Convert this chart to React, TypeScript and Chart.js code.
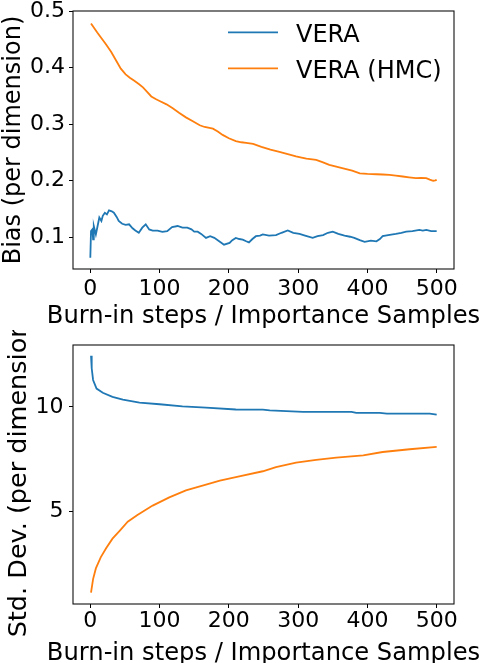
import React, { useEffect, useRef } from "react";
import { Chart, registerables } from "chart.js";

Chart.register(...registerables);

const FONT = "'DejaVu Sans', 'Liberation Sans', sans-serif";
const BLUE = "#1f77b4";
const ORANGE = "#ff7f0e";

const seriesLabels = ["VERA", "VERA (HMC)"];
const xAxisLabel = "Burn-in steps / Importance Samples";
const biasAxisLabel = "Bias (per dimension)";
const stdAxisLabel = "Std. Dev. (per dimension)";

const xTicks = [0, 100, 200, 300, 400, 500];
const biasTicks = [0.1, 0.2, 0.3, 0.4, 0.5];
const stdTicks = [5, 10];

// Bias (per dimension) — VERA
const biasVeraSteps = [
  0, 1, 3, 4, 5, 8, 10, 13, 16, 18, 21, 24, 27, 31, 34, 38, 41, 46, 51, 56, 61, 65, 70, 75, 80, 85, 90, 97,
  104, 111, 118, 126, 133, 140, 146, 150, 155, 160, 167, 173, 179, 186, 193, 201, 205, 210, 215, 220, 225, 229,
  234, 239, 245, 249, 258, 268, 276, 285, 293, 302, 310, 321, 328, 336, 343, 350, 358, 367, 375, 381, 389, 396,
  405, 413, 418, 422, 430, 441, 449, 456, 465, 475, 480, 485, 492, 500,
];
const biasVera = [
  0.064, 0.111, 0.114, 0.0965, 0.12, 0.105, 0.117, 0.135, 0.129, 0.138, 0.1435, 0.1405, 0.1475, 0.146, 0.1435,
  0.136, 0.129, 0.124, 0.122, 0.123, 0.116, 0.112, 0.108, 0.117, 0.123, 0.114, 0.112, 0.112, 0.1095, 0.111, 0.118,
  0.12, 0.117, 0.117, 0.114, 0.11, 0.11, 0.106, 0.099, 0.102, 0.099, 0.093, 0.087, 0.09, 0.095, 0.099, 0.097,
  0.096, 0.093, 0.091, 0.097, 0.102, 0.103, 0.105, 0.103, 0.104, 0.108, 0.112, 0.108, 0.106, 0.103, 0.099, 0.102,
  0.104, 0.108, 0.11, 0.106, 0.103, 0.101, 0.099, 0.095, 0.092, 0.094, 0.093, 0.097, 0.102, 0.104, 0.106, 0.108,
  0.11, 0.111, 0.113, 0.112, 0.113, 0.111, 0.111,
];

// Bias (per dimension) — VERA (HMC)
const biasHmcSteps = [
  1, 10, 22, 30, 37, 44, 51, 57, 63, 70, 76, 82, 88, 95, 100, 110, 119, 128, 138, 148, 158, 165, 177, 184, 191,
  200, 210, 218, 225, 235, 247, 260, 273, 285, 297, 305, 312, 326, 335, 345, 355, 365, 378, 389, 400, 413, 422,
  432, 441, 451, 460, 470, 478, 485, 490, 495, 498, 500,
];
const biasHmc = [
  0.478, 0.462, 0.442, 0.428, 0.413, 0.398, 0.388, 0.382, 0.377, 0.371, 0.365, 0.357, 0.349, 0.344, 0.341, 0.335,
  0.328, 0.32, 0.312, 0.305, 0.298, 0.295, 0.292, 0.287, 0.281, 0.275, 0.27, 0.268, 0.267, 0.265, 0.26, 0.255,
  0.251, 0.247, 0.243, 0.241, 0.239, 0.237, 0.233, 0.228, 0.225, 0.222, 0.218, 0.213, 0.212, 0.2115, 0.211,
  0.2105, 0.209, 0.2075, 0.206, 0.2045, 0.205, 0.2045, 0.202, 0.2, 0.2005, 0.2015,
];

// Std. Dev. (per dimension) — VERA
const stdVeraSteps = [1, 2, 4, 9, 18, 32, 47, 71, 100, 133, 167, 210, 249, 259, 307, 377, 384, 418, 428, 490, 500];
const stdVera = [
  12.45, 11.85, 11.29, 10.88, 10.68, 10.48, 10.35, 10.21, 10.13, 10.03, 9.97, 9.88, 9.87, 9.84, 9.77, 9.77, 9.72,
  9.72, 9.68, 9.68, 9.63,
];

// Std. Dev. (per dimension) — VERA (HMC)
const stdHmcSteps = [
  1, 4, 8, 15, 23, 32, 42, 54, 68, 90, 114, 138, 167, 187, 215, 249, 268, 297, 326, 355, 394, 422, 461, 500,
];
const stdHmc = [
  1.13, 1.78, 2.29, 2.82, 3.26, 3.71, 4.07, 4.52, 4.84, 5.29, 5.68, 6.02, 6.29, 6.48, 6.69, 6.93, 7.13, 7.34,
  7.47, 7.58, 7.69, 7.85, 7.98, 8.09,
];

const toPoints = (xs: number[], ys: number[]) => xs.map((x, i) => ({ x, y: ys[i] }));

const decorPlugin = {
  id: "decor",
  afterDraw(chart: any, _args: any, opts: any) {
    const { ctx, chartArea: a } = chart;
    ctx.save();
    ctx.strokeStyle = "#111";
    ctx.lineWidth = 1.1;
    ctx.strokeRect(a.left, a.top, a.right - a.left, a.bottom - a.top);
    ctx.fillStyle = "#000";
    ctx.textBaseline = "alphabetic";
    ctx.textAlign = "center";
    ctx.font = `${opts.xTitleSize}px ${FONT}`;
    ctx.fillText(opts.xTitle, (a.left + a.right) / 2, opts.xTitleY);
    ctx.save();
    ctx.font = `${opts.yTitleSize}px ${FONT}`;
    ctx.translate(opts.yTitleX, (a.top + a.bottom) / 2);
    ctx.rotate(-Math.PI / 2);
    ctx.fillText(opts.yTitle, 0, 0);
    ctx.restore();
    if (opts.legend) {
      ctx.font = `${opts.legendSize}px ${FONT}`;
      ctx.textAlign = "left";
      chart.data.datasets.forEach((ds: any, i: number) => {
        const y = opts.legendY + i * opts.legendGap;
        ctx.strokeStyle = ds.borderColor;
        ctx.lineWidth = ds.borderWidth;
        ctx.beginPath();
        ctx.moveTo(opts.legendX, y);
        ctx.lineTo(opts.legendX + 50, y);
        ctx.stroke();
        ctx.fillStyle = "#000";
        ctx.fillText(ds.label, opts.legendX + 68, y + 9.7);
      });
    }
    ctx.restore();
  },
};

function makeConfig(p: any) {
  const tickFont = { family: FONT, size: 22 };
  return {
    type: "line",
    data: {
      datasets: [
        {
          label: seriesLabels[0],
          data: toPoints(p.s1x, p.s1y),
          borderColor: BLUE,
          backgroundColor: BLUE,
          borderWidth: 1.8,
          pointRadius: 0,
          tension: 0,
        },
        {
          label: seriesLabels[1],
          data: toPoints(p.s2x, p.s2y),
          borderColor: ORANGE,
          backgroundColor: ORANGE,
          borderWidth: 1.8,
          pointRadius: 0,
          tension: 0,
        },
      ],
    },
    options: {
      animation: false,
      responsive: false,
      events: [],
      layout: { padding: { left: 0, top: p.top, right: 29, bottom: 0 } },
      plugins: {
        legend: { display: false },
        tooltip: { enabled: false },
        decor: {
          xTitle: xAxisLabel,
          yTitle: p.yTitle,
          xTitleSize: 24.2,
          yTitleSize: p.yTitleSize,
          legendSize: 24,
          xTitleY: p.xTitleY,
          yTitleX: p.yTitleX,
          legend: p.legend,
          legendX: 228,
          legendY: 32.3,
          legendGap: 36,
        },
      },
      scales: {
        x: {
          type: "linear",
          min: -25,
          max: 525,
          grid: { display: true, drawOnChartArea: false, drawTicks: true, tickLength: 4, tickColor: "#000", tickWidth: 1 },
          border: { display: false },
          ticks: { font: tickFont, color: "#000", padding: p.xTickPad, maxRotation: 0, autoSkip: false, callback: (v: number) => String(v) },
          afterBuildTicks: (scale: any) => {
            scale.ticks = xTicks.map((v) => ({ value: v }));
          },
          afterFit: (scale: any) => {
            scale.height = p.xAxisH;
            scale.paddingLeft = 0;
            scale.paddingRight = 0;
            scale.paddingTop = 0;
            scale.paddingBottom = 0;
          },
        },
        y: {
          type: "linear",
          min: p.ymin,
          max: p.ymax,
          grid: { display: true, drawOnChartArea: false, drawTicks: true, tickLength: 4, tickColor: "#000", tickWidth: 1 },
          border: { display: false },
          ticks: { font: tickFont, color: "#000", padding: p.yTickPad, autoSkip: false, callback: p.fmt },
          afterBuildTicks: (scale: any) => {
            scale.ticks = p.yTicks.map((v: number) => ({ value: v }));
          },
          afterFit: (scale: any) => {
            scale.width = 73;
            scale.paddingLeft = 0;
            scale.paddingRight = 0;
            scale.paddingTop = 0;
            scale.paddingBottom = 0;
          },
        },
      },
    },
    plugins: [decorPlugin],
  } as any;
}

export default function App() {
  const topRef = useRef<HTMLCanvasElement>(null);
  const botRef = useRef<HTMLCanvasElement>(null);

  useEffect(() => {
    const top = new Chart(
      topRef.current as HTMLCanvasElement,
      makeConfig({
        s1x: biasVeraSteps,
        s1y: biasVera,
        s2x: biasHmcSteps,
        s2y: biasHmc,
        ymin: 0.044,
        ymax: 0.5,
        yTicks: biasTicks,
        fmt: (v: number) => v.toFixed(1),
        top: 11,
        xAxisH: 61,
        xTickPad: 3,
        yTickPad: 4,
        yTitle: biasAxisLabel,
        yTitleSize: 24,
        xTitleY: 322.5,
        yTitleX: 19.5,
        legend: true,
      })
    );
    const bot = new Chart(
      botRef.current as HTMLCanvasElement,
      makeConfig({
        s1x: stdVeraSteps,
        s1y: stdVera,
        s2x: stdHmcSteps,
        s2y: stdHmc,
        ymin: 0.59,
        ymax: 12.96,
        yTicks: stdTicks,
        fmt: (v: number) => String(v),
        top: 15,
        xAxisH: 59,
        xTickPad: 0.5,
        yTickPad: 5.5,
        yTitle: stdAxisLabel,
        yTitleSize: 25.5,
        xTitleY: 329.5,
        yTitleX: 26,
        legend: false,
      })
    );
    return () => {
      top.destroy();
      bot.destroy();
    };
  }, []);

  return (
    <div style={{ position: "fixed", left: 0, top: 0, width: 483, height: 663, background: "#fff", overflow: "hidden" }}>
      <canvas ref={topRef} width={483} height={330} style={{ display: "block" }} />
      <canvas ref={botRef} width={483} height={333} style={{ display: "block" }} />
    </div>
  );
}
